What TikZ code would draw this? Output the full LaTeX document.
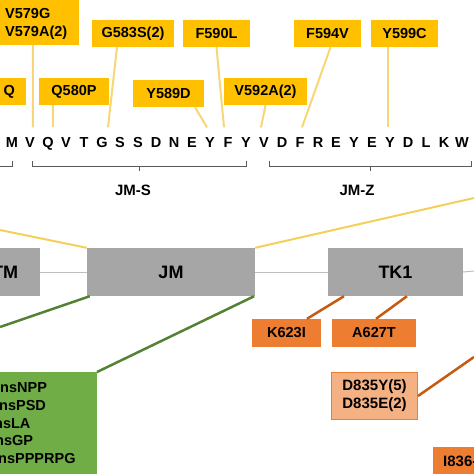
\documentclass[tikz,border=0pt]{standalone}
\usepackage{fontspec}
\setmainfont{Liberation Sans}
\definecolor{yfill}{HTML}{FFC000}
\definecolor{yline}{HTML}{F7D678}
\definecolor{ylink}{HTML}{F4CF5A}
\definecolor{gfill}{HTML}{A6A6A6}
\definecolor{gline}{HTML}{BFBFBF}
\definecolor{grfill}{HTML}{70AD47}
\definecolor{grline}{HTML}{548235}
\definecolor{ofill}{HTML}{ED7D31}
\definecolor{oline}{HTML}{C55A11}
\definecolor{lofill}{HTML}{F4B183}
\definecolor{brk}{HTML}{595959}
\begin{document}
\begin{tikzpicture}[x=1pt,y=-1pt,
  lbl/.style={font=\fontsize{14.5}{18}\selectfont\bfseries, text=black},
  ybox/.style={lbl, fill=yfill, inner sep=0pt, minimum height=27pt},
  obox/.style={lbl, fill=ofill, inner sep=0pt, minimum height=28pt},
  gbx/.style={font=\fontsize{18}{20}\selectfont\bfseries, fill=gfill, inner sep=0pt, minimum height=48pt},
  seq/.style={font=\fontsize{14.5}{18}\selectfont\bfseries, anchor=base, inner xsep=0pt, inner ysep=9pt, text height=10.4pt, text depth=0pt},
  yconn/.style={draw=yline, line width=2pt},
  ylinkst/.style={draw=ylink, line width=2pt},
  grconn/.style={draw=grline, line width=2.5pt},
  oconn/.style={draw=oline, line width=2.5pt},
  gconn/.style={draw=gline, line width=1pt},
  brace/.style={draw=brk, line width=1pt},
  txt/.style={lbl, inner sep=0pt}]
\useasboundingbox (0,0) rectangle (474,474);
\clip (0,0) rectangle (474,474);

% sequence letters
\foreach \l [count=\i] in {M,V,Q,V,T,G,S,S,D,N,E,Y,F,Y,V,D,F,R,E,Y,E,Y,D,L,K,W}
  \node[seq] (s\i) at ({12+18*(\i-1)},147) {\l};

% yellow boxes
\node[ybox, minimum width=89pt, minimum height=55pt, anchor=south east] (v579) at (79,45) {};
\node[txt, anchor=west, align=left] (v579t) at (5,24) {V579G\\V579A(2)};
\node[ybox, minimum width=82pt] (g583) at (133,33.5) {G583S(2)};
\node[ybox, minimum width=67pt] (f590) at (216.5,33.5) {F590L};
\node[ybox, minimum width=67pt] (f594) at (327.5,33.5) {F594V};
\node[ybox, minimum width=67pt] (y599) at (404.5,33.5) {Y599C};
\node[ybox, minimum width=46pt, anchor=east] (qpart) at (26,91.5) {};
\node[txt, anchor=east] (qpartt) at (15,91.5) {Q};
\node[ybox, minimum width=70pt] (q580) at (74,91.5) {Q580P};
\node[ybox, minimum width=71pt] (y589) at (168.5,93.5) {Y589D};
\node[ybox, minimum width=83pt] (v592) at (265.5,91.5) {V592A(2)};

% connectors to sequence
\draw[yconn] ([xshift=-1.5pt]v579.south) -- ([xshift=3pt]s2.north);
\draw[yconn] ([xshift=-21pt]q580.south) -- ([xshift=5pt]s3.north);
\draw[yconn] ([xshift=-16pt]g583.south) -- ([xshift=6pt]s6.north);
\draw[yconn] ([xshift=26.5pt]y589.south) -- ([xshift=-3pt]s12.north);
\draw[yconn] (f590.south) -- ([xshift=-4pt]s13.north);
\draw[yconn] (v592.south) -- ([xshift=-3pt]s15.north);
\draw[yconn] ([xshift=3pt]f594.south) -- ([xshift=2pt]s17.north);
\draw[yconn] ([xshift=-16.5pt]y599.south) -- ([xshift=-2pt]s22.north);

% braces
\draw[brace] (0,166) -- (12,166) -- (12,161);
\draw[brace] (32,161) -- (32,166) -- (246,166) -- (246,161);
\draw[brace] (139,166) -- (139,171);
\draw[brace] (269,161) -- (269,166) -- (471,166) -- (471,161);
\draw[brace] (370,166) -- (370,171);
\node[lbl, font=\fontsize{15}{18}\selectfont\bfseries] (jms) at (133,190) {JM-S};
\node[lbl, font=\fontsize{15}{18}\selectfont\bfseries] (jmz) at (357,190) {JM-Z};

% domain boxes
\node[gbx, minimum width=70pt] (tm) at (5,272) {TM};
\node[gbx, minimum width=168pt] (jm) at (171,272) {JM};
\node[gbx, minimum width=135pt] (tk1) at (395.5,272) {TK1};
\coordinate (redge) at (474,271);
\draw[gconn] (tm.east) -- (jm.west);
\draw[gconn] (jm.east) -- (tk1.west);
\draw[gconn] (tk1.east) -- (redge);

% yellow links from JM
\coordinate (yl) at (0,230);
\coordinate (yr) at (474,198);
\draw[ylinkst] (jm.north west) -- (yl);
\draw[ylinkst] (jm.north east) -- (yr);

% green box and links
\node[fill=grfill, minimum width=117pt, minimum height=112pt, anchor=north east, inner sep=0pt] (gbox) at (97,372) {};
\coordinate (gl) at (0,327);
\draw[grconn] ([xshift=3pt]jm.south west) -- (gl);
\draw[grconn] ([xshift=-1pt]jm.south east) -- (gbox.north east);
\node[txt, anchor=base west] (g1) at (0,392.2) {nsNPP};
\node[txt, anchor=base west] (g2) at (-1,410.2) {nsPSD};
\node[txt, anchor=base west] (g3) at (-6,428.2) {nsLA};
\node[txt, anchor=base west] (g4) at (-5,445.2) {nsGP};
\node[txt, anchor=base west] (g5) at (-2,463.2) {nsPPPRPG};

% orange boxes
\node[obox, minimum width=69pt] (k623) at (286.5,333) {K623I};
\node[obox, minimum width=84pt] (a627) at (374,333) {A627T};
\draw[oconn] ([xshift=20.5pt]k623.north) -- ([xshift=-51.5pt]tk1.south);
\draw[oconn] ([xshift=2pt]a627.north) -- ([xshift=11.5pt]tk1.south);
\node[lbl, font=\fontsize{15}{18}\selectfont\bfseries, fill=lofill, draw=ofill, line width=1pt, inner sep=0pt, minimum width=86pt, minimum height=47pt, align=center] (d835) at (374.5,396) {D835Y(5)\\D835E(2)};
\coordinate (dr) at (474,357);
\draw[oconn] (d835.east) -- (dr);
\node[obox, minimum width=60pt, anchor=north west] (i836) at (433,447) {};
\node[txt, anchor=west, font=\fontsize{15}{18}\selectfont\bfseries] (i836t) at (443,461) {I836-};
\end{tikzpicture}
\end{document}
